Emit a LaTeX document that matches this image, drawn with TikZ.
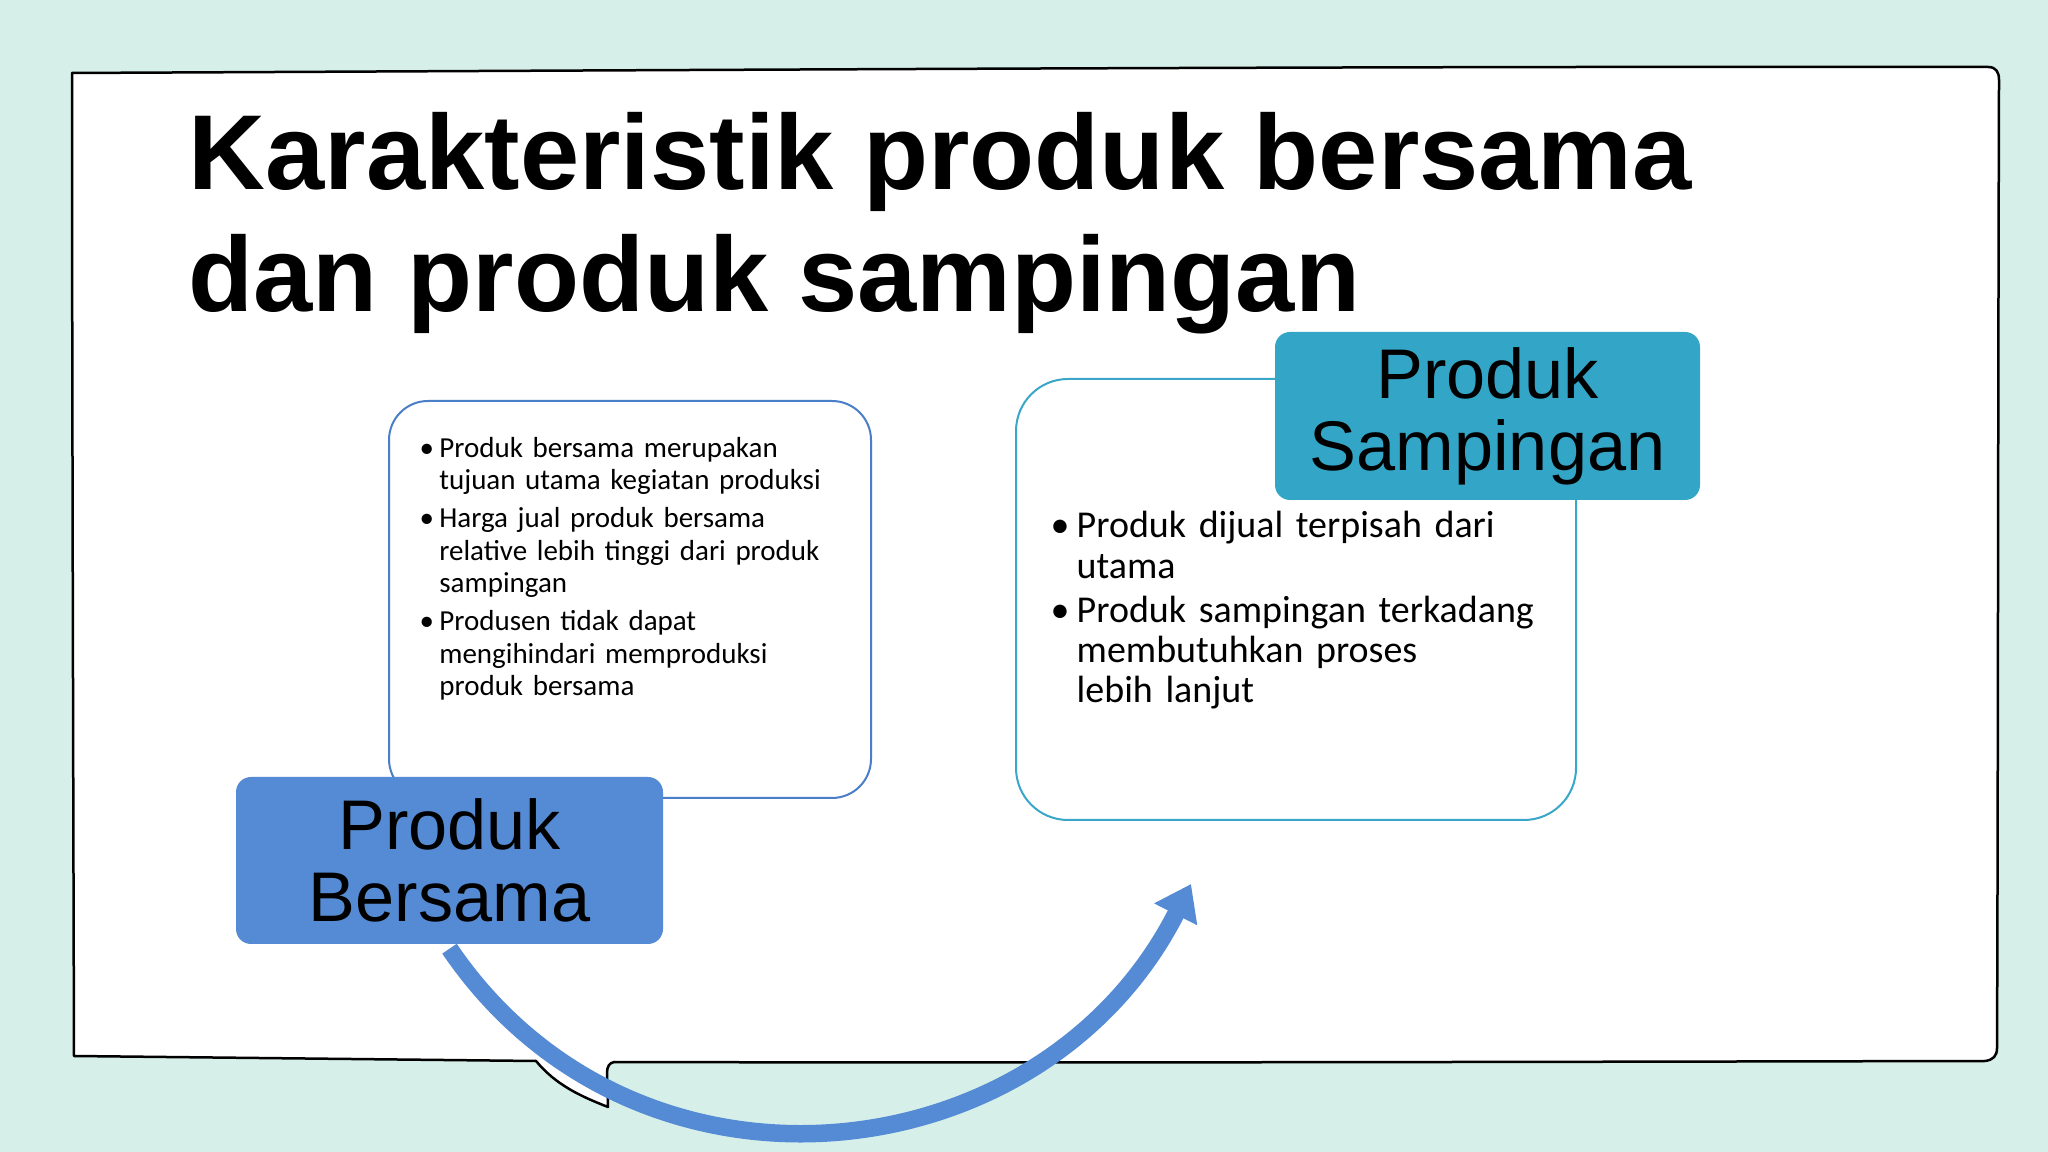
\documentclass[tikz,border=0pt]{standalone}
\usepackage{fontspec}
\setmainfont{Carlito}
\newfontfamily\arialfont{Liberation Sans}
\usetikzlibrary{positioning,arrows.meta}
\definecolor{latar}{RGB}{214,240,233}
\definecolor{birukiri}{RGB}{74,126,200}
\definecolor{birulabel}{RGB}{85,139,212}
\definecolor{tosca}{RGB}{58,166,200}
\definecolor{toscalabel}{RGB}{51,166,200}
\newcommand{\poin}[2]{\par\hangindent=#1\hangafter=1\noindent\makebox[#1][l]{\textbullet}#2\par}

\begin{document}
\begin{tikzpicture}[x=0.1mm,y=-0.1mm]
                      \tikzstyle{kotak}=[draw,fill=white,line width=0.2mm,inner sep=0pt]
                      \tikzstyle{judulkotak}=[rounded corners=1.5mm,inner sep=0pt,align=center,font=\arialfont\fontsize{20pt}{20.5pt}\selectfont]
                      \tikzstyle{isi}=[inner sep=0pt,text width=48mm]
                      \tikzstyle{panah}=[line width=1.75mm,draw=birulabel,-{Triangle[width=4.6mm,length=3.4mm]}]
                      \fill[latar] (0,0) rectangle (2048,1152);
                      \useasboundingbox (0,0) rectangle (2048,1152);
                      \draw[fill=white,line width=0.25mm,line join=round] (72,73) .. controls (700,70) and (1400,66) .. (1988,67) .. controls (1996,67) and (1999,72) .. (1999,80)
                            .. controls (1998,400) and (1998,800) .. (1997,1048) .. controls (1997,1056) and (1993,1060) .. (1985,1061)
                            .. controls (1500,1062) and (1000,1063) .. (614,1062) .. controls (609,1063) and (607,1067) .. (607,1073) -- (608,1107)
                            .. controls (580,1096) and (556,1085) .. (536,1061)
                            -- (74,1056) .. controls (73,700) and (72,300) .. cycle;
                      \node[anchor=north west,inner sep=0pt,align=left,font=\arialfont\bfseries\fontsize{30.3pt}{34.5pt}\selectfont] (judul) at (188,112) {Karakteristik produk bersama\\dan produk sampingan};
                      \node[kotak,draw=birukiri,rounded corners=3.9mm,minimum width=48.2mm,minimum height=39.7mm] (kiri) at (630,599.5) {};
                      \node[isi,font=\fontsize{8.25pt}{9.3pt}\selectfont,below right=1.9mm and 3.1mm of kiri.north west] (teks kiri) {\setlength{\parskip}{1.4pt}%
                            \poin{5.6pt}{Produk bersama merupakan\newline tujuan utama kegiatan produksi}%
                            \poin{5.6pt}{Harga jual produk bersama\newline relative lebih tinggi dari produk\newline sampingan}%
                            \poin{5.6pt}{Produsen tidak dapat\newline mengihindari memproduksi\newline produk bersama}};
                      \node[kotak,draw=tosca,rounded corners=5.2mm,minimum width=56mm,minimum height=44.1mm] (kanan) at (1296,599.5) {};
                      \node[isi,text width=52mm,font=\fontsize{10.8pt}{11.4pt}\selectfont,below right=11.5mm and 3.5mm of kanan.north west] (teks kanan) {\setlength{\parskip}{1.2pt}%
                            \poin{7.4pt}{Produk dijual terpisah dari\newline utama}%
                            \poin{7.4pt}{Produk sampingan terkadang\newline membutuhkan proses\newline lebih lanjut}};
                      \node[judulkotak,fill=toscalabel,minimum width=42.5mm,minimum height=16.8mm] (sampingan) at (1487.5,416) {Produk\\Sampingan};
                      \node[judulkotak,fill=birulabel,minimum width=42.7mm,minimum height=16.7mm] (bersama) at (449.5,860.5) {Produk\\Bersama};
                      \coordinate (ujung) at (1191,884);
                      \draw[panah] ([yshift=-0.4mm]bersama.south) .. controls (635,1222) and (1042,1178) .. (ujung);
                  \end{tikzpicture}
\end{document}
